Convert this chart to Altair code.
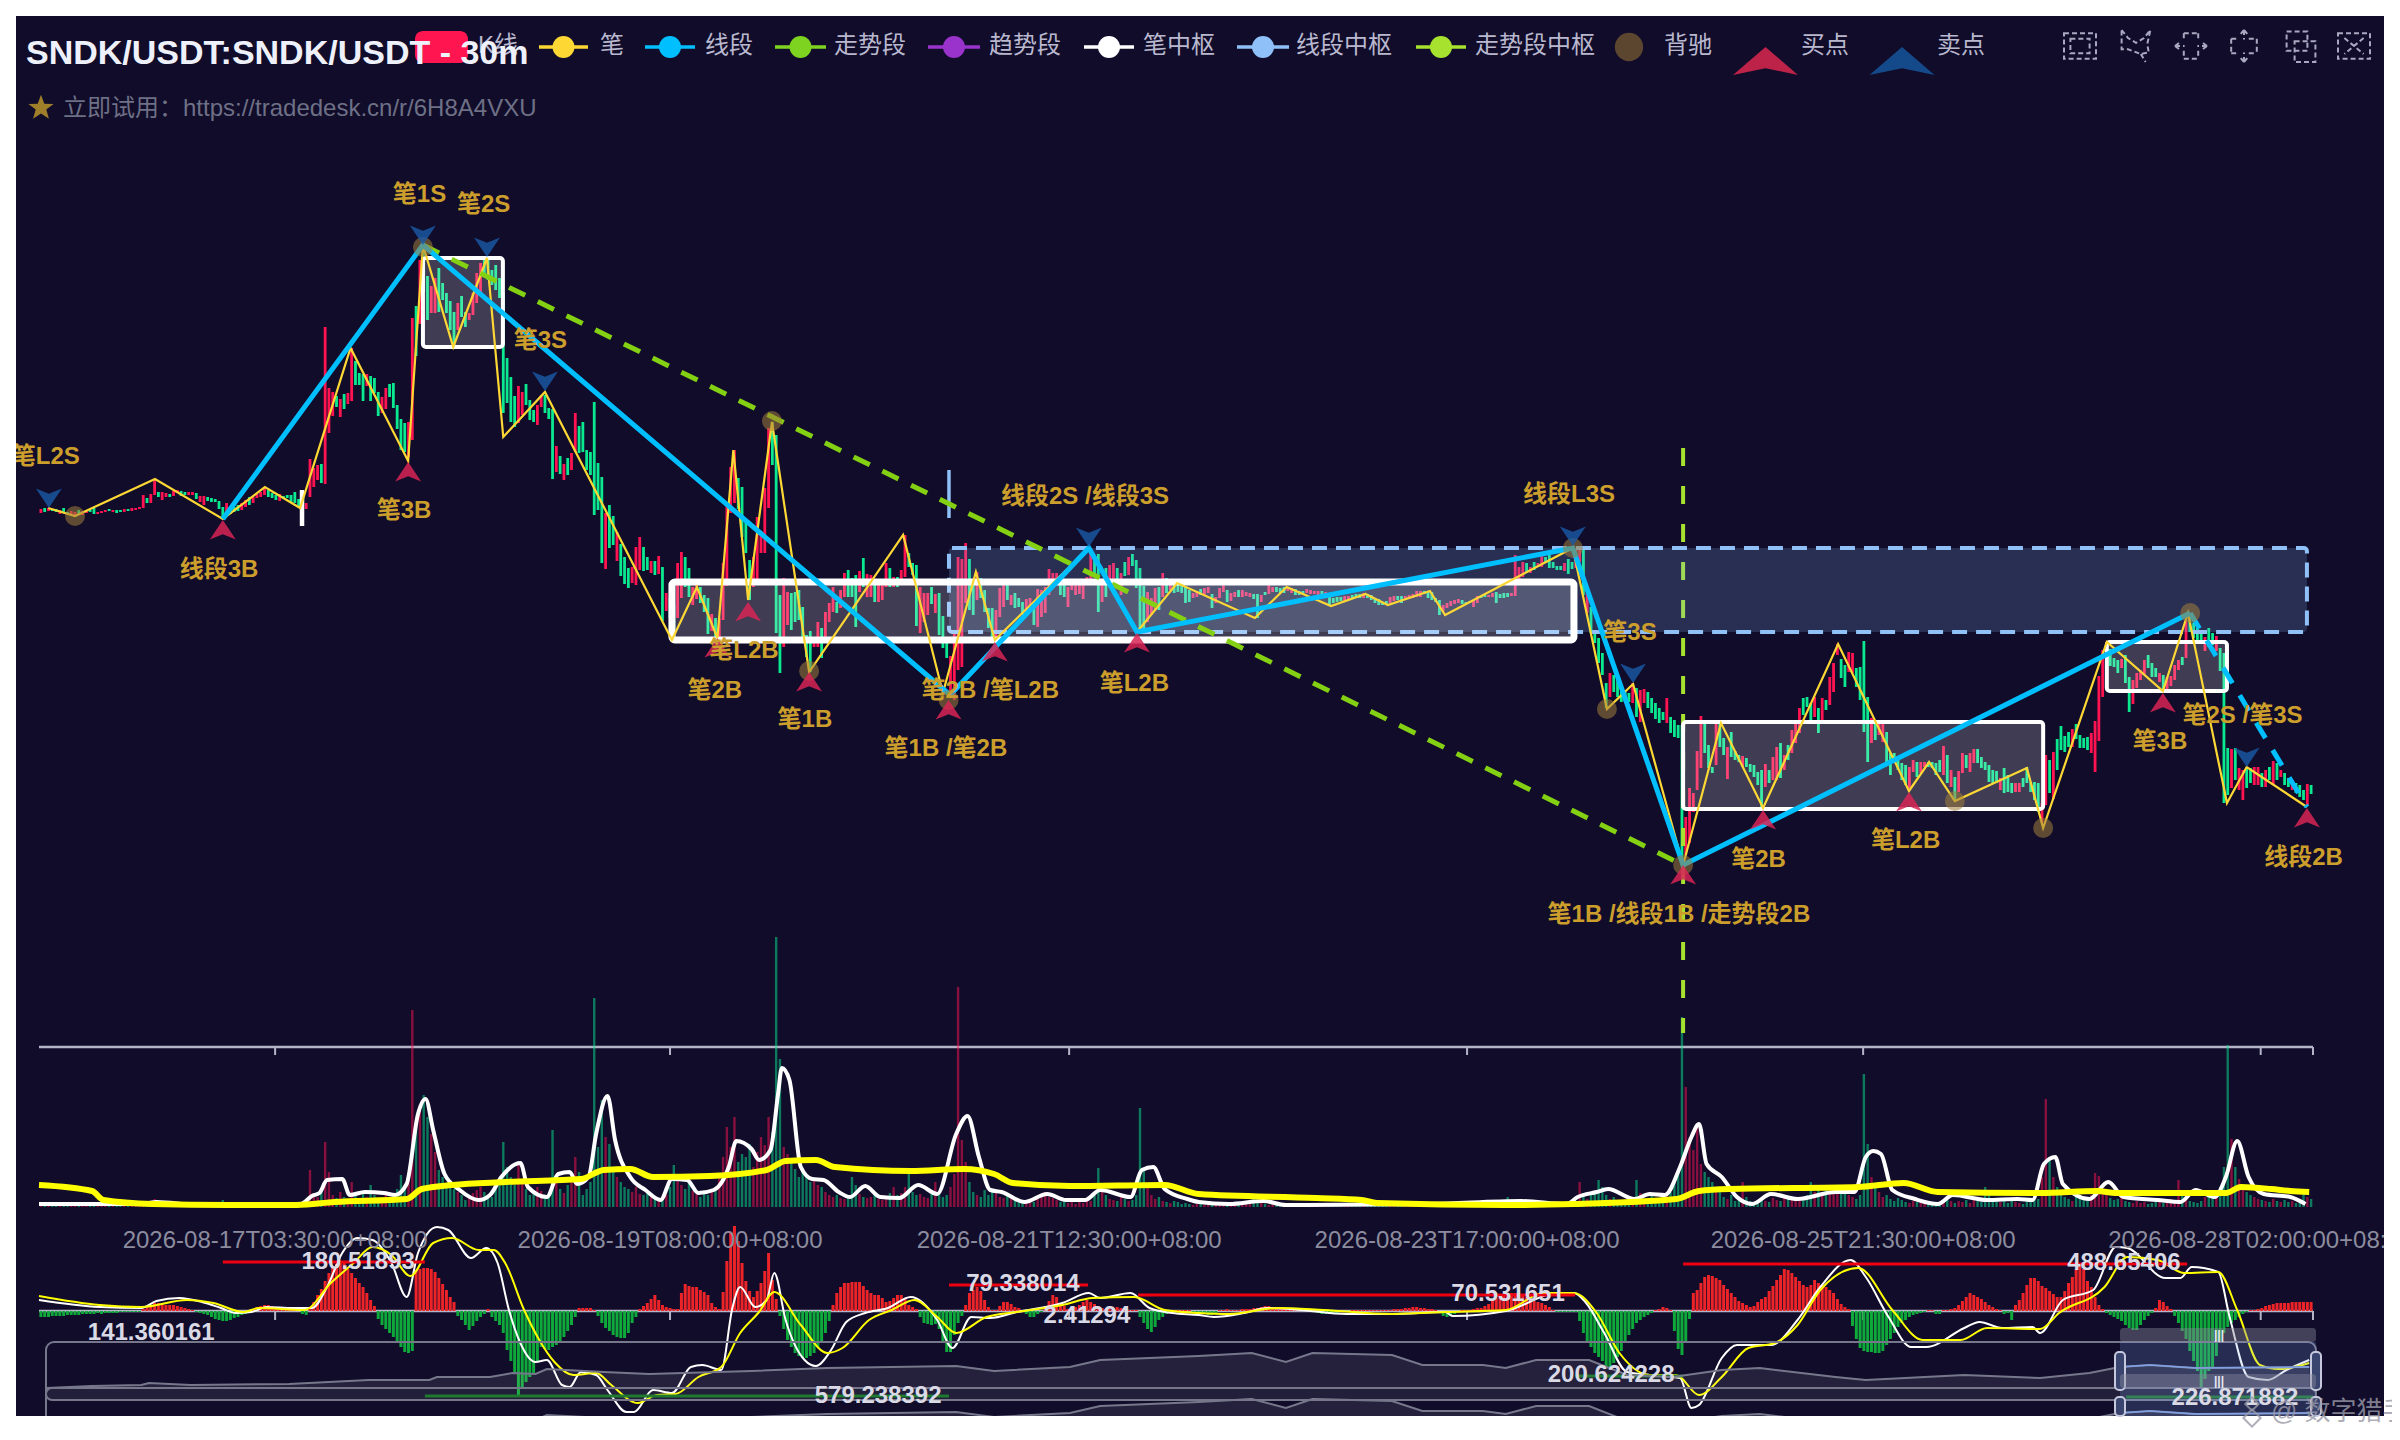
import altair as alt
import pandas as pd

FONT = "Liberation Sans, Noto Sans CJK SC"
BG = "#100c2a"
GOLD = "#cc9e2c"
AXIS = "#b4b3c8"
RED, GREEN = "#ff1451", "#0ae890"

# ---- candles: (high, low, 1=red/0=green)
c_a = [(491,487,1),(492,488,0),(492,489,1),(491,489,0),(491,488,0),(490,486,1),(492,487,0),(488,486,0),(489,486,1),(488,484,1),
(490,486,0),(489,485,1),(489,487,1),(490,488,0),(492,486,0),(488,486,1),(489,487,1),(490,488,1),(491,489,0),(490,488,1),
(490,487,0),(490,488,0),(491,488,1),(491,489,0),(492,489,1),(492,490,1),(493,491,1),(505,492,1),(502,497,0),(506,497,1),
(521,505,1),(508,503,0),(508,500,1),(507,503,1),(506,503,0),(509,504,1),(510,507,1),(509,504,0),(508,505,0),(508,505,1),
(508,505,1),(507,501,0),(504,498,1),(504,495,1),(503,499,0),(502,498,0),(501,498,0),(499,491,0),(493,481,0),(497,484,1),
(494,486,0),(493,488,0),(495,489,0),(497,490,1),(500,493,1),(503,495,0),(503,497,1),(506,502,1),(508,503,1),(513,505,1),
(510,503,0),(507,502,0),(505,500,0),(506,499,1),(504,501,0),(505,502,0),(505,498,0),(508,497,0),(501,493,0),(498,491,0),(497,491,1)]
c_b = [(541,503,1),(532,513,1),(535,520,1),(536,517,0),(673,516,1),(612,567,1),(608,584,1),(604,593,0),(601,583,1),(606,591,0),
(607,596,1),(652,599,1),(639,615,0),(627,615,0),(626,599,0),(626,614,1),(624,599,0),(622,607,0),(608,584,0),(603,587,1),
(612,591,1),(616,603,0),(617,592,0),(595,571,0),(581,550,0),(577,548,0),(578,543,1),(682,560,1),(694,644,0),(740,676,1),
(755,708,0),(724,680,0),(714,687,1),(722,687,1),(732,688,0),(717,700,0),(707,687,0),(699,670,0),(688,653,0),(697,670,1),
(704,683,0),(688,673,0),(687,680,1),(707,685,1),(727,697,1),(737,708,1),(742,727,0),(742,720,0),(730,715,0),(735,710,0),
(722,702,0),(707,587,0),(642,597,0),(623,578,0),(604,573,0),(614,577,1),(608,585,1),(616,595,0),(600,580,0)]
c_c = [(590,578,0),(595,575,1),(605,593,1),(605,587,0),(592,581,0),(591,521,0),(554,528,1),(544,526,0),(536,520,1),(542,525,0),
(547,530,1),(587,548,1),(574,547,0),(578,548,0),(550,530,0),(548,525,0),(598,485,0),(537,490,0),(523,437,0),(487,431,1),
(495,452,0),(484,455,0),(468,439,1),(456,424,0),(443,416,0),(432,412,0),(433,417,1),(453,415,1),(463,430,1),(453,429,0),
(443,430,0),(439,427,1),(439,425,0),(444,426,1),(433,379,0),(407,389,1),(402,382,0),(395,357,0),(437,382,1),(448,402,1),
(443,413,0),(432,403,0),(413,395,1),(418,401,1),(413,397,0),(405,388,0),(402,366,0),(386,369,1),(382,362,0),(382,361,1),
(437,380,1),(498,414,1),(533,487,1),(550,497,1),(522,491,0),(513,463,0),(481,447,0),(440,400,0),(443,413,1),(483,417,1),
(467,447,1),(512,447,1),(572,492,1),(578,535,0),(565,367,0),(405,327,0),(422,353,1),(408,375,1),(407,370,0),(408,378,0),
(410,380,0),(393,357,0),(365,343,0),(369,328,0),(363,353,1),(378,353,1),(372,342,0),(388,363,1),(397,378,1),(413,388,1),
(398,387,0),(410,392,1),(427,403,1),(430,403,0),(422,403,0),(425,373,0),(429,408,1),(442,413,0),(426,403,1),(425,403,1),
(418,398,0),(415,398,1),(417,400,1),(437,413,1),(432,413,0),(423,413,1),(423,413,0),(430,415,1)]
c_d = [(465,423,1),(447,433,0),(437,425,0),(435,374,0),(413,367,1),(407,378,1),(407,385,1),(413,396,0),(406,387,1),(407,365,0),
(384,352,0),(363,342,0),(344,303,1),(367,300,1),(443,330,1),(441,333,1),(457,397,1),(441,390,0),(420,385,0),(428,400,1),
(422,402,0),(410,388,0),(392,372,0),(392,363,0),(390,360,1),(412,383,1),(420,393,1),(420,400,0),(405,395,1),(407,392,0),
(402,393,0),(398,385,0),(401,388,1),(402,392,1),(397,375,0),(411,373,1),(410,383,1),(413,387,1),(431,405,1),(427,412,1),
(427,415,1),(425,405,0),(417,403,0),(413,393,1),(420,410,1),(418,405,1),(420,406,1),(420,401,1),(423,415,1),(452,421,1),
(442,423,0),(446,388,0),(417,398,1),(432,403,0),(435,413,1),(437,420,1),(432,413,0),(427,405,1),(438,424,0),(443,425,1),
(446,434,0),(440,412,0),(432,368,0),(414,370,0),(408,378,1),(402,385,1),(412,390,1),(413,390,0),(427,403,1),(422,407,0),
(420,410,1),(417,407,0),(415,408,0),(415,407,0),(413,397,0),(410,398,0),(407,402,1),(409,403,1),(411,405,0),(412,405,1),
(413,407,1),(406,392,0),(403,397,1),(412,402,1),(415,408,1),(410,398,0),(407,399,1),(408,403,1),(410,403,0),(410,403,1),
(408,404,1),(407,403,1),(406,401,0),(406,382,0),(405,398,1),(408,405,0),(417,406,1),(413,408,1),(413,408,0),(412,407,0),
(413,407,0),(413,409,1),(412,407,1),(411,405,0),(409,405,0)]
c_e = [(409,406,0),(411,407,1),(410,406,1),(409,406,1),(409,405,1),(409,405,0),(408,403,1),(406,394,0),(402,397,0),(403,398,0),
(403,399,0),(404,399,1),(404,401,1),(405,401,0),(406,402,0),(406,402,0),(407,402,1),(406,402,0),(405,400,0),(402,397,0),
(401,395,0),(398,395,0),(399,395,0),(403,397,1),(404,399,1),(404,400,0),(404,397,0),(404,400,1),(405,401,1),(406,402,1),
(409,403,1),(409,403,1),(409,406,0),(408,402,0),(408,400,0),(402,398,0),(400,385,0),(395,389,1),(397,392,1),(399,394,1),
(400,396,1),(401,397,1),(400,396,0),(398,396,0),(399,397,0),(399,393,1),(404,397,1),(404,402,0),(405,403,0),(405,403,1),
(407,403,1),(408,397,0),(406,402,0),(407,402,0),(407,403,0),(407,404,1),(445,404,1),(433,421,1),(438,423,1),(437,427,0),
(433,427,1),(438,430,0),(437,433,1),(445,433,1),(443,437,0),(445,432,0),(438,432,0),(434,430,0),(434,430,0),(437,429,1),
(441,426,0),(438,431,0),(450,432,1),(452,438,1),(452,405,0),(410,387,1),(393,367,0),(367,357,0),(362,337,0),(347,325,0),
(317,292,0),(327,303,1),(325,308,0),(323,303,0),(315,298,0),(308,298,0),(307,298,0),(317,297,1),(312,283,0),(310,278,1),
(311,297,1),(308,292,0),(302,287,0),(297,281,0),(292,277,0),(288,280,0),(302,277,1),(283,267,0),(280,263,0),(275,262,0)]
c_f = [(275,135,0),(183,145,1),(212,157,1),(207,188,1),(249,210,1),(284,232,1),(280,247,0),(255,232,0),(233,227,0),(278,235,1),
(277,253,0),(262,245,0),(253,221,1),(268,243,0),(249,240,0),(245,238,0),(244,233,1),(242,233,0),(236,228,0),(235,223,0),
(228,215,0),(230,192,0),(236,213,1),(230,217,0),(243,220,1),(253,220,1),(257,222,0),(245,230,1),(255,240,0),(270,247,1),
(277,257,1),(292,267,1),(302,285,0),(303,293,0),(297,277,0),(303,283,1),(292,267,0),(302,277,1),(300,290,0),(323,295,1),
(337,308,1),(356,345,1),(341,322,0),(335,313,0),(348,328,1),(347,327,1),(332,313,0),(333,300,0),(359,268,0),(303,238,0),
(282,257,1),(280,260,0),(280,265,1),(278,258,1),(268,237,0),(247,225,0),(247,237,0),(242,230,0),(237,220,0),(235,215,0),
(233,212,1),(240,228,1),(238,223,0),(238,227,1),(238,233,1),(238,233,0),(238,232,0),(237,225,0),(240,228,0),(254,225,1),
(245,217,0),(230,213,1),(223,200,0),(229,208,1),(247,227,1),(245,232,0),(247,228,1),(251,237,1),(251,237,0),(243,232,0),
(238,230,0),(235,218,0),(230,217,0),(229,217,0),(222,210,1),(232,207,0),(225,208,0),(217,207,0),(217,208,1),(217,208,1),
(222,213,0),(233,217,0),(218,208,0),(218,200,0),(217,188,0),(197,177,1),(245,195,1),(240,207,0)]
c_g = [(248,201,1),(261,230,0),(274,250,0),(264,248,0),(268,253,0),(271,253,1),(276,261,0),(265,252,0),(262,252,0),(263,250,0),
(267,247,1),(279,228,1),(324,259,1),(350,303,1),(358,323,1),(351,334,0),(342,333,0),(340,327,0),(341,332,1),(345,317,0),
(323,288,0),(320,296,1),(327,312,1),(330,320,1),(340,325,1),(345,332,0),(337,323,0),(332,323,0),(327,318,1),(325,310,0),
(323,310,1),(324,314,1),(335,320,1),(340,330,1),(343,335,0),(380,342,1),(387,368,0),(377,362,0),(372,360,0),(367,357,0),
(363,349,1),(372,353,0),(367,355,0),(364,349,1),(352,329,0),(347,197,0),(252,205,0),(251,212,1),(252,220,0),(232,210,1),
(230,200,1),(232,212,0),(232,217,0),(233,215,1),(233,215,1),(227,213,0),(230,213,1),(233,220,0),(239,215,1),(237,220,0),
(230,223,1),(227,215,0),(222,213,0),(220,210,1),(217,207,0),(215,203,0),(210,200,0),(216,195,1),(215,206,0)]
candles = c_a + c_b + c_c + c_d + c_e + c_f + c_g

# ---- structure lines: (bar position, price)
bi = [(2.4,492),(9.5,484),(30.6,521),(48.5,481),(59.6,513),(68.9,492),(82.2,652),(97.4,539),(101.3,755),(109.3,653),
(118.2,742),(122.5,563),(133.5,608),(167,360),(173.6,413),(179,362),(183.2,550),(187.1,400),(193.4,578),(203.2,328),
(228,465),(238.5,307),(247.2,428),(252.2,360),(277,452),(289.7,368),(300.3,417),(320.8,382),(329.2,413),(340.9,394),
(350,406),(355.9,395),(367,409),(371,385),(404.7,452),(413.7,291),(420.6,316),(433.8,135),(443.8,277),(454.9,192),
(474.7,356),(493.4,209),(498.7,238),(505.5,199),(524.5,232),(528.8,172),(545.6,358),(560.4,309),(567,387),(577.3,197),
(582.5,233),(598.4,193)]
duan = [(48.5,481),(101.3,755),(240.4,305),(277,452),(289.7,368),(404.7,452),(433.8,135),(567.6,387)]
duan_dashed = [(567.6,387),(598.4,193)]
zoushi = [(101.3,755),(433.8,135)]
bi_zones = [(101.3,122.4,742,653,4),(167,405,418,360,7),(433.8,528.8,278,191,4),(545.6,577.3,358,309,4)]
duan_zone = [(240.1,598.4,452,368)]

sell_pts = [(2.6,492),(101.3,755),(118.2,743),(133.5,609),(277,453),(404.7,454),(420.6,317),(582.5,233)]
buy_pts = [(48.5,480),(97.4,538),(187.1,398),(179,362),(203.2,328),(240,300),(252.2,358),(289.7,367),(433.8,135),
(454.9,190),(493.4,208),(560.4,307),(598.4,192)]
div_pts = [(9.5,484),(101.3,753),(193.4,579),(203.2,329),(240,300),(404.7,452),(413.7,291),(433.8,135),(505.5,199),
(528.8,172),(567.6,387)]
point_labels = [("笔L2S",1.8,543),("笔1S",100.4,805),("笔2S",117.3,795),("笔3S",132.3,659),("笔3B",96.3,489),
("线段3B",47.5,430),("笔2B",178.3,309),("笔L2B",186,349),("笔1B",202.1,280),("笔2B /笔L2B",251,309),
("笔1B /笔2B",239.3,251),("线段2S /线段3S",276,503),("笔L2B",289,316),("线段L3S",403.7,505),("笔3S",419.8,367),
("笔1B /线段1B /走势段2B",432.7,85),("笔2B",453.7,140),("笔L2B",492.5,159),("笔3B",559.6,258),
("笔2S /笔3S",581.4,284),("线段2B",597.5,142)]

# ---- volume by bar, in chunks keyed by the first bar
vol_chunks = {
0:[1,2,1,2,1,2,1,1,2,1,2,1,3,2,1,2,1,2,1,2,2,3,2,3,2,3,2,3,4,5,8,6,4,3,3,2,3,2,2,2,1,2,3,2,2,1,2,4,7,5,3,2,2,2,1,2,1,2,2,1,2,3,2,2,1,2,1,2,3,2],
70:[6,37,14,10,18,65,35,12,9,15,10,8,25,12,9,14,10,22,12,8,9,14,10,12,18,32,22,30,197,85],
100:[103,112,90,73,55,37,30,22,27,18,15,12,7,9,14,17,20,15,12,10,18,25,65,40,30,22,43,25,18,12],
130:[14,20,16,10,12,77,30,18,14,22,30,50,35,12,18,25,209,60,107,70,63,40,30,25,20,18,15,20,13,12],
160:[15,12,10,8,7,12,20,42,28,22,18,25,16,13,10,14,12,15,16,30,50,80,60,90,45,53,50,63,40,55],
190:[70,62,90,75,270,148,60,53,45,38,30,35,30,25,28,22,20,15,12,10,12,9,8,12,30,22,13,10,9,10],
220:[12,8,7,10,14,20,12,14,20,33,15,12,13,10,9,14,25,13,10,12,20,33,220,67,45,25,15,12,10,17],
250:[12,15,17,10,9,12,8,7,6,5,4,7,5,8,12,15,10,9,7,5,6,4,5,3,6,4,8,6,12,39],
280:[17,12,8,7,6,10,8,6,7,12,99,37,20,12,8,10,6,5,4,6,5,3,4,3,2,3],
306:[3,2,2,3,2,3,2,3,2,2,3,5,4,6,10,6,4,3,2,3,2,2,2,1,2,1,2,1,2,2,1,2,1,2,1,1,2,1,2,1,2,1,1,2,1,2,1,1,2,1],
356:[2,2,1,2,3,2,1,2,2,1,2,3,5,3,2,2,1,2,2,3,2,3,2,3,4,3,2,3,4,5,6,10,7,5,4,3,5,3,2,3,3,2,3,2,3,3,4,3,5,4],
406:[25,10,8,12,15,27,20,12,8,10,7,6,5,8,10,27,14,8,7,12,9,8,10,12,15,25,35,190],
434:[120,70,57,80,43,35,30,25,20,15,10,8,12,6,8,25,10,6,5,7,8,6,5,9,7,6,12,9,10,8],
464:[10,8,12,25,15,20,12,18,22,15,20,18,14,12,10,8,12,133],
482:[63,30,20,15,10,12,8,6,9,7,5,4,6,5,4,3,5,4,3,5,6,8,6,4,6,5,7,4,8,6,5,20,12,8,6,5,7,4,6,5,4,3,6,5,7,8,30,108],
530:[50,30,20,14,10,8,6,10,9,7,8,12,34,31,18,12,9,7,8,10,6,5,4,6,4,5,3,4,6,5,4,7,8,5,27,12,8,6,5,4,6,10,12,9,15,20,40,162],
578:[68,40,28,20,15,12,10,8,7,6,5,8,6,5,7,5,6,4,5,17,10,8],
}
ma5 = [(0,3),(27,3),(31,5),(42,2),(48,3),(54,3),(69,3),(72,11),(74,14),(76,27),(80,28),(82,12),(86,15),(91,14),(94,12),(97,23),
(100,93),(102,108),(104,77),(107,33),(111,17),(116,7),(119,12),(122,30),(127,44),(129,20),(134,10),(137,33),(140,35),(142,23),
(145,30),(147,73),(150,111),(152,67),(156,30),(160,17),(164,7),(167,28),(171,27),(174,14),(178,17),(182,40),(184,66),(188,58),
(190,47),(193,57),(195,113),(196,139),(198,127),(201,40),(204,28),(207,27),(211,15),(214,10),(218,21),(222,10),(227,9),(232,22),
(237,13),(242,73),(245,91),(248,50),(251,17),(254,15),(260,5),(266,13),(271,7),(276,7),(280,17),(288,10),(291,37),(294,40),
(297,18),(303,8),(306,5),(314,3),(323,6),(329,2),(367,3),(391,6),(403,3),(406,10),(411,15),(414,18),(421,8),(425,13),(429,12),
(433,40),(436,70),(438,83),(440,43),(444,30),(448,10),(452,3),(457,13),(464,8),(474,15),(479,15),(482,50),(484,56),(486,53),
(489,17),(495,8),(501,3),(505,12),(514,7),(522,8),(526,7),(529,43),(532,50),(534,23),(541,8),(546,25),(550,10),(559,7),(565,5),
(569,17),(574,10),(577,30),(580,66),(583,30),(587,13),(594,10),(598,3)]
ma10 = [(0,22),(14,16),(17,7),(30,3),(50,2),(68,2),(78,5),(97,8),(101,18),(109,22),(123,25),(143,28),(149,37),(156,38),(162,30),
(177,31),(192,37),(197,46),(205,47),(210,40),(230,36),(244,38),(252,33),(257,24),(272,21),(297,22),(306,13),(337,9),(349,7),(353,4),
(387,2),(405,3),(432,8),(438,16),(446,18),(480,20),(492,24),(501,15),(528,14),(543,16),(548,14),(577,14),(581,20),(589,18),(594,16),(599,15)]

# ---- MACD histogram by bar, in chunks keyed by the first bar
hist_chunks = {
0:[-6,-6,-6,-5,-5,-5,-5,-4,-4,-4,-4,-3,-3,-3,-3,-2,-3,-2,-2,-2,-2,-1,-1,-1,-1,-1,-1],
27:[2,4,6,8,8,7,6,6,6,5,4,3,2,1],41:[-1,-2,-3,-4,-6,-8,-9,-10,-10,-9,-7,-6,-4,-3,-1],
56:[2,4,5,6,6,5,4,4,3,3,2,2,1,-3,-4],71:[4,9,16,22,30,38,44,47,49,48,42,38,33,28,24,18,11,5],
89:[-8,-14,-18,-22,-26,-30,-36,-41,-42,-40],99:[41,42,43,43,42,39,33,27,21,14,9],110:[-5,-9,-14,-19,-15,-10,-6,-3],118:[2],
119:[-6,-10,-14,-22,-39,-50,-62,-84,-78,-71,-66,-62,-50,-36,-38,-39,-36,-34,-32,-26,-20,-14,-6],142:[3,3,3,3,1],
147:[-5,-12,-17,-20,-24,-26,-27,-27,-22,-12,-6],158:[2,5,8,12,16,11,6,4,3,2],168:[2,18,27,25,24,24,21,19,16,8,4,2],
180:[19,50,78,85,70,48,30,20,14,20,28,40,58,31,12],195:[-5,-18,-29,-36,-42,-45,-47,-47,-45,-42,-36,-30,-22,-10],
209:[6,18,24,28,28,29,29,29,25,21,18,16,16,13,9,10,13,16,16,12,6,4,2],232:[-6,-12,-13,-14,-13,-18,-30,-41,-41,-24,-12,-5],
244:[6,18,21,24,20,11,4,1,1],253:[5,9,9,7,4,3,1],260:[-3,-6,-6,-3,-1],265:[5,10,16,14,8,5,2],
272:[2,4,6,9,11,9,7,5,3,2,2,3,4,3,2,1,1,1],290:[-6,-12,-18,-21,-16,-9,-6,-3,-2],299:[1,1,1,1,1,-1,-1],
306:[-2,-3,-4,-4,-2,1,1,2,1,1,1,2,2,2,3,3,4,5,5,4,3,3,2,2,1,1,1,1,1,-1,-1,-2,-3,-3,-3,-2,-2,-1,-1,-1,1,1,1,1,1,1,1,1,1],
355:[1,1,2,2,2,3,3,4,4,3,3,2,2,1,-2,-5,-6,-5,-3,-1,1,1],
377:[1,2,3,3,5,7,10,13,16,16,17,18,18,17,16,14,12,10,9,8,6,4,1],400:[-1,-1,-1,-1,-1,-1],
406:[-10,-22,-30,-36,-42,-46,-50,-56,-56,-52,-46,-40,-31,-24,-18,-12,-9,-6,-4,-2],426:[1,2,4,3,1],431:[-20,-38,-44,-30,-8],
436:[18,21,28,34,36,35,33,31,26,22,18,14,10,8,6,4],452:[5,9,12,14,20,25,31,36,42,41,38,34,30,26,24,26,31,28,26,24,21,18,12,7,4,2],
478:[-15,-28,-37,-40,-41,-41,-42,-42,-40,-34,-28,-22,-16,-12,-9,-6,-4,-3,-2,-1],498:[1,1,-3,-3,1,1,2],
505:[3,6,10,14,18,16,14,12,9,6,4,2,1],518:[-3,-2,-9],521:[6,11,18,26,33,33,30,25,23,20,17,14,14,20,28,34,42,48,42,30,24,14,6,2],
545:[-2,-4,-6,-8,-10,-14,-17,-19,-19,-14,-9,-5,-2],558:[3,11,9,5,2],563:[-5,-12,-20,-28,-40,-50,-60,-76,-68,-60,-56,-45,-32,-22,-16,-12,-9,-6,-3,-1],
583:[1,1,2,3,5,6,7,8,8,8,8,9,9,9,9,9,9],
}
dif = [(0,11),(16,4),(27,3),(31,10),(37,13),(43,9),(48,3),(52,-2),(56,-1),(60,4),(67,3),(72,3),(76,24),(80,58),(84,73),(88,71),(93,48),
(97,14),(100,58),(105,84),(108,81),(114,53),(118,63),(121,48),(124,1),(127,-32),(131,-51),(134,-49),(138,-74),(140,-76),(143,-61),
(147,-64),(150,-79),(155,-101),(157,-101),(162,-79),(167,-82),(172,-56),(175,-54),(180,-59),(183,4),(185,24),(189,4),(192,11),(194,38),
(197,-9),(202,-49),(205,-55),(209,-39),(213,-11),(218,-2),(224,3),(230,14),(237,-9),(241,-37),(246,-6),(251,-7),(258,-1),(270,8),
(277,18),(280,13),(288,18),(293,3),(299,-2),(306,-4),(310,-6),(318,-2),(324,3),(333,1),(345,-3),(357,-3),(371,-1),(373,-5),(387,0),
(401,18),(405,18),(408,9),(413,-22),(419,-61),(425,-64),(433,-67),(436,-97),(438,-94),(444,-47),(448,-34),(457,-34),(464,-9),(470,24),
(478,51),(482,34),(488,-6),(494,-36),(498,-36),(508,-17),(512,-11),(518,-17),(526,-16),(528,-22),(534,11),(542,21),(548,64),(551,63),
(561,33),(565,33),(568,44),(575,39),(578,-6),(583,-66),(588,-69),(593,-59),(599,-49)]
dea = [(0,15),(16,6),(27,4),(39,11),(46,8),(54,-1),(58,3),(70,1),(77,28),(83,48),(88,64),(93,56),(98,35),(104,68),(109,73),(116,61),
(120,61),(123,48),(128,1),(132,-29),(136,-51),(141,-64),(147,-62),(151,-74),(158,-92),(163,-84),(168,-83),(174,-66),(180,-56),(185,-22),
(190,-1),(194,19),(201,-14),(208,-42),(212,-37),(219,-9),(225,1),(231,11),(237,-6),(242,-22),(250,-6),(258,-1),(270,6),(278,13),(289,14),
(297,1),(306,-2),(314,-3),(327,3),(339,1),(357,-3),(371,-1),(387,1),(397,18),(405,18),(411,-2),(417,-42),(425,-64),(432,-64),(438,-84),
(444,-66),(451,-37),(458,-32),(464,-14),(470,21),(480,43),(489,1),(497,-29),(507,-29),(514,-17),(528,-18),(533,-2),(545,24),(551,54),
(559,51),(566,38),(575,39),(580,1),(586,-54),(591,-58),(599,-52)]
mark_red = [(48.5,101.8,49),(240.1,276.8,26),(290,405.3,16),(433.8,566.8,47)]
mark_green = [(101.8,240.1,-85),(405.3,433.8,-65),(550.7,600,-86)]
mark_texts = [("180.51893",84.2,49),("141.360161",29.6,-22),("79.338014",259.6,27),("2.41294",276.5,-5),("70.531651",387.6,17),
("488.65406",550.1,48),("579.238392",221.4,-85),("200.624228",414.8,-64),("226.871882",579.4,-87)]

# ---- slider preview
shadow = [(2,0),(14,2),(27,3),(29,5),(40,3),(66,4),(87,8),(103,8),(105,11),(119,11),(125,15),(131,14),(134,19),(149,16),(161,14),(188,17),
(208,20),(242,22),(252,17),(272,21),(280,28),(306,32),(320,35),(329,26),(336,35),(357,33),(365,23),(381,23),(387,20),(395,28),(409,28),
(419,13),(431,11),(444,18),(454,20),(474,11),(482,8),(508,13),(528,10),(541,15),(549,21),(557,23),(569,20),(599,21)]

tick_pos = [62.3,166.5,271.8,376.8,481.3,586.2]
tick_labels = ["2026-08-17T03:30:00+08:00","2026-08-19T08:00:00+08:00","2026-08-21T12:30:00+08:00",
               "2026-08-23T17:00:00+08:00","2026-08-25T21:30:00+08:00","2026-08-28T02:00:00+08:00"]

# ---- scales (page pixel = range value + 16)
xs = alt.Scale(domain=[0,600], range=[23,2297], nice=False, zero=False)
ys_price = alt.Scale(domain=[0,1000], range=[984,-16], nice=False, zero=False)
ys_vol = alt.Scale(domain=[0,160], range=[1191,1031], nice=False, zero=False)
ys_macd = alt.Scale(domain=[-200,200], range=[1495,1095], nice=False, zero=False)
ys_sl1 = alt.Scale(domain=[0,46], range=[1372,1326], nice=False, zero=False)
ys_sl2 = alt.Scale(domain=[0,46], range=[1418,1372], nice=False, zero=False)

def X(f="x"):
    return alt.X(f"{f}:Q", scale=xs, axis=None, title=None)
def Y(f, s):
    return alt.Y(f"{f}:Q", scale=s, axis=None, title=None)

layers = []

# volume
vol_rows = [{"x":s+k+0.5,"v":v,"c":"#ff1451" if candles[s+k][2] else "#0ae890"} for s,vals in vol_chunks.items() for k,v in enumerate(vals)]
hist_rows = [{"x":s+k+0.5,"v":v,"b":0,"c":"#ec2428" if v>0 else "#0fa83a"} for s,vals in hist_chunks.items() for k,v in enumerate(vals)]

# true axis carrying the volume baseline and its ticks
layers.append(alt.Chart(pd.DataFrame({"x":[0.0,600.0],"v":[0,0]})).mark_line(opacity=0).encode(
    x=alt.X("x:Q", scale=xs, title=None, axis=alt.Axis(values=tick_pos+[600], labels=False, grid=False, orient="bottom",
        offset=-209, domainColor=AXIS, domainWidth=2.5, tickColor=AXIS, tickWidth=2, tickSize=9, title=None)),
    y=Y("v", ys_vol)))

tick_df = pd.DataFrame({"x":tick_pos+[600]})
for lvl,scale,a,b in [(160,ys_vol,160,152),(0,ys_macd,0,-9)]:
    layers.append(alt.Chart(pd.DataFrame({"x":[0.0],"x2":[600.0],"v":[lvl]})).mark_rule(color=AXIS,strokeWidth=2.5).encode(
        x=X(), x2=alt.X2("x2"), y=Y("v",scale)))
    layers.append(alt.Chart(tick_df.assign(a=a,b=b)).mark_rule(color=AXIS,strokeWidth=2).encode(
        x=X(), y=Y("a",scale), y2=alt.Y2("b")))

layers.append(alt.Chart(pd.DataFrame(vol_rows).assign(b=0)).mark_rule(strokeWidth=2.4,opacity=0.5).encode(
    x=X(), y=Y("v",ys_vol), y2=alt.Y2("b"), color=alt.Color("c:N",scale=None)))
layers.append(alt.Chart(pd.DataFrame(ma5,columns=["x","v"])).mark_line(color="white",strokeWidth=4,interpolate="monotone").encode(x=X(),y=Y("v",ys_vol)))
layers.append(alt.Chart(pd.DataFrame(ma10,columns=["x","v"])).mark_line(color="#ffff00",strokeWidth=6,interpolate="monotone").encode(x=X(),y=Y("v",ys_vol)))

# macd
layers.append(alt.Chart(pd.DataFrame(hist_rows)).mark_rule(strokeWidth=3).encode(
    x=X(), y=Y("v",ys_macd), y2=alt.Y2("b"), color=alt.Color("c:N",scale=None)))
layers.append(alt.Chart(pd.DataFrame(dif,columns=["x","v"])).mark_line(color="white",strokeWidth=2,interpolate="monotone").encode(x=X(),y=Y("v",ys_macd)))
layers.append(alt.Chart(pd.DataFrame(dea,columns=["x","v"])).mark_line(color="#ffff00",strokeWidth=2,interpolate="monotone").encode(x=X(),y=Y("v",ys_macd)))
layers.append(alt.Chart(pd.DataFrame(mark_red,columns=["x","x2","v"])).mark_rule(color="#ee0010",strokeWidth=3).encode(x=X(),x2=alt.X2("x2"),y=Y("v",ys_macd)))
layers.append(alt.Chart(pd.DataFrame(mark_green,columns=["x","x2","v"])).mark_rule(color="#0d6e1e",strokeWidth=3).encode(x=X(),x2=alt.X2("x2"),y=Y("v",ys_macd)))

# slider preview frames
for sc in [ys_sl1, ys_sl2]:
    d = pd.DataFrame(shadow,columns=["x","v"]).assign(b=0)
    layers.append(alt.Chart(d).mark_area(color="white",opacity=0.09,clip=True).encode(x=X(),y=Y("v",sc),y2=alt.Y2("b")))
    layers.append(alt.Chart(d).mark_line(color="#77778c",strokeWidth=2,clip=True).encode(x=X(),y=Y("v",sc)))
    layers.append(alt.Chart(d[d.x>=549]).mark_line(color="#7f9fe0",strokeWidth=1.5,clip=True).encode(x=X(),y=Y("v",sc)))

def rect_ui(x0,x1,y0,y1,**kw):
    return alt.Chart(pd.DataFrame({"a":[0]})).mark_rect(**kw).encode(
        x=alt.value(x0-16),x2=alt.value(x1-16),y=alt.value(y0-16),y2=alt.value(y1-16))
def text_ui(t,x,y,**kw):
    base = dict(font=FONT,align="left",baseline="middle")
    base.update(kw)
    return alt.Chart(pd.DataFrame({"t":[t]})).mark_text(**base).encode(text="t:N",x=alt.value(x-16),y=alt.value(y-16))
def pt_ui(x,y,**kw):
    return alt.Chart(pd.DataFrame({"a":[0]})).mark_point(**kw).encode(x=alt.value(x-16),y=alt.value(y-16))

layers.append(rect_ui(46,2316,1342,1470,fill="white",fillOpacity=0,stroke="#77778c",strokeWidth=2,cornerRadius=8,clip=True))
layers.append(rect_ui(46,2316,1388,1400,fill="white",fillOpacity=0.08,stroke="#77778c",strokeWidth=2,cornerRadius=6))
layers.append(rect_ui(2120,2316,1342,1416,fill="#87aefb",fillOpacity=0.2))
for off in [0,46]:
    layers.append(rect_ui(2120,2316,1328+off,1342+off,fill="#8a8a9e",fillOpacity=0.42,cornerRadius=3))
    layers.append(text_ui("|||",2219,1335+off,fontSize=12,fontWeight="bold",align="center",color="#e8e8f4"))
    if off == 0:
        for hx in [2120,2316]:
            layers.append(rect_ui(hx-5,hx+5,1352,1390,fill="#39456e",stroke="#c6c8de",strokeWidth=2,cornerRadius=4))
    else:
        for hx in [2120,2316]:
            layers.append(rect_ui(hx-5,hx+5,1397,1416,fill="#39456e",stroke="#c6c8de",strokeWidth=2,cornerRadius=4))

# candles
cdf = pd.DataFrame(candles,columns=["hi","lo","r"])
cdf["x"] = cdf.index+0.5
cdf["c"] = [RED if r else GREEN for r in cdf.r]
layers.append(alt.Chart(cdf).mark_rule(strokeWidth=2.8).encode(x=X(),y=Y("hi",ys_price),y2=alt.Y2("lo"),color=alt.Color("c:N",scale=None)))

# zero-width structure zones
for vx,top,bot,col,w in [(69.4,510,474,"white",4.5),(240.1,530,482,"#90c0f8",3.5)]:
    layers.append(alt.Chart(pd.DataFrame({"x":[vx],"a":[top],"b":[bot]})).mark_rule(color=col,strokeWidth=w).encode(x=X(),y=Y("a",ys_price),y2=alt.Y2("b")))
layers.append(alt.Chart(pd.DataFrame({"x":[433.8],"a":[552],"b":[-33]})).mark_rule(color="#a6e22e",strokeWidth=4,strokeDash=[18,20]).encode(
    x=X(),y=Y("a",ys_price),y2=alt.Y2("b")))

# zones
zdf = pd.DataFrame(duan_zone,columns=["x","x2","a","b"])
layers.append(alt.Chart(zdf).mark_rect(fill="#90c0f8",fillOpacity=0.2,stroke="#90c0f8",strokeWidth=4,strokeDash=[15,9],cornerRadius=3).encode(
    x=X(),x2=alt.X2("x2"),y=Y("a",ys_price),y2=alt.Y2("b")))
bz = pd.DataFrame(bi_zones,columns=["x","x2","a","b","w"])
layers.append(alt.Chart(bz).mark_rect(fill="white",fillOpacity=0.2,stroke="white",cornerRadius=3).encode(
    x=X(),x2=alt.X2("x2"),y=Y("a",ys_price),y2=alt.Y2("b"),strokeWidth=alt.StrokeWidth("w:Q",scale=None)))

# lines
layers.append(alt.Chart(pd.DataFrame(bi,columns=["x","p"])).mark_line(color="#fdd835",strokeWidth=2.2).encode(x=X(),y=Y("p",ys_price)))
layers.append(alt.Chart(pd.DataFrame(zoushi,columns=["x","p"])).mark_line(color="#84d012",strokeWidth=5,strokeDash=[18,14]).encode(x=X(),y=Y("p",ys_price)))
layers.append(alt.Chart(pd.DataFrame(duan,columns=["x","p"])).mark_line(color="#00bfff",strokeWidth=5).encode(x=X(),y=Y("p",ys_price)))
layers.append(alt.Chart(pd.DataFrame(duan_dashed,columns=["x","p"])).mark_line(color="#00bfff",strokeWidth=5,strokeDash=[18,14]).encode(x=X(),y=Y("p",ys_price)))

# markers
BUY = "M0,0L1,1.5L0,1.1L-1,1.5Z"
SELL = "M0,0L1,-1.5L0,-1.1L-1,-1.5Z"
layers.append(alt.Chart(pd.DataFrame(div_pts,columns=["x","p"])).mark_point(filled=True,color="#a07d3a",opacity=0.55,size=400).encode(x=X(),y=Y("p",ys_price)))
layers.append(alt.Chart(pd.DataFrame(buy_pts,columns=["x","p"])).mark_point(filled=True,shape=BUY,color="#d82555",opacity=0.85,size=676).encode(x=X(),y=Y("p",ys_price)))
layers.append(alt.Chart(pd.DataFrame(sell_pts,columns=["x","p"])).mark_point(filled=True,shape=SELL,color="#1a5aa8",opacity=0.8,size=676).encode(x=X(),y=Y("p",ys_price)))
layers.append(alt.Chart(pd.DataFrame(point_labels,columns=["t","x","p"])).mark_text(font=FONT,fontSize=24,fontWeight="bold",color=GOLD,clip=True).encode(
    x=X(),y=Y("p",ys_price),text="t:N"))

# macd labels, axis labels
layers.append(alt.Chart(pd.DataFrame(mark_texts,columns=["t","x","v"])).mark_text(font=FONT,fontSize=24,fontWeight="bold",color="#dadae6").encode(
    x=X(),y=Y("v",ys_macd),text="t:N"))
layers.append(alt.Chart(pd.DataFrame({"x":tick_pos,"t":tick_labels,"v":[70]*6})).mark_text(font=FONT,fontSize=24,color="#8c8c9e",clip=True).encode(
    x=X(),y=Y("v",ys_macd),text="t:N"))

# header: k-line swatch, legend, title
LEG = "#b9b8ce"
layers.append(rect_ui(415,468,31,63,fill="#ff1650",cornerRadius=8))
layers.append(text_ui("K线",478,46,fontSize=24,color=LEG))
legend_items = [("笔","#fdd835",539,588,600),("线段","#00bfff",645,695,705),("走势段","#7ed321",775,826,834),("趋势段","#9933cc",928,980,989),
                ("笔中枢","white",1084,1134,1143),("线段中枢","#90c0f8",1237,1289,1296),("走势段中枢","#a6e22e",1416,1466,1475)]
for t,col,a,b,tx in legend_items:
    layers.append(alt.Chart(pd.DataFrame({"k":[0]})).mark_rule(color=col,strokeWidth=3.5).encode(x=alt.value(a-16),x2=alt.value(b-16),y=alt.value(31)))
    layers.append(pt_ui((a+b)/2,47,filled=True,color=col,opacity=1,size=484))
    layers.append(text_ui(t,tx,46,fontSize=24,color=LEG))
layers.append(pt_ui(1629,47,filled=True,color="#5c4630",opacity=1,size=800))
layers.append(text_ui("背驰",1664,46,fontSize=24,color=LEG))
WIDE = "M0,-0.43L1,0.43L0,0.22L-1,0.43Z"
layers.append(pt_ui(1765.5,61,filled=True,shape=WIDE,color="#bd2349",opacity=1,size=65*65))
layers.append(text_ui("买点",1801,46,fontSize=24,color=LEG))
layers.append(pt_ui(1902,61,filled=True,shape=WIDE,color="#154a8a",opacity=1,size=65*65))
layers.append(text_ui("卖点",1937,46,fontSize=24,color=LEG))

layers.append(text_ui("SNDK/USDT:SNDK/USDT - 30m",26,54,fontSize=34,fontWeight="bold",color="#eef1fa"))
layers.append(pt_ui(41,108,filled=True,color="#a07f2a",opacity=1,size=700,
    shape="M0,-1L.25,-.32L.95,-.3L.4,.12L.6,.82L0,.42L-.6,.82L-.4,.12L-.95,-.3L-.25,-.32Z"))
layers.append(text_ui("立即试用：https://tradedesk.cn/r/6H8A4VXU",63,109,fontSize=24,color="#6e7086"))

# toolbox icons
icons = [(2080,"M-1,-.8H1V.8H-1ZM-.6,-.45H.6V.45H-.6Z"),
         (2136,"M-.9,-1L-.5,-.5L0,-.2L.5,-.5L.9,-1L.7,-.1L.8,.4L.3,.5L-.5,.2L-.9,.2ZM.3,.5L.6,1"),
         (2191,"M-.45,-.8H.45M-.45,.8H.45M-.45,-.8V-.3M.45,-.8V-.3M-.45,.3V.8M.45,.3V.8M-1,0L-.6,-.3M-1,0L-.6,.3M-1,0H-.4M1,0L.6,-.3M1,0L.6,.3M1,0H.4"),
         (2244,"M-.8,-.45V.45M.8,-.45V.45M-.8,-.45H-.3M-.8,.45H-.3M.3,-.45H.8M.3,.45H.8M0,-1L-.3,-.65M0,-1L.3,-.65M0,-1V-.4M0,1L-.3,.65M0,1L.3,.65M0,1V.4"),
         (2301,"M-.9,-.9H.4V.3H-.9Z M-.4,-.3H.9V1H-.4Z"),
         (2354,"M-1,-.8H1V.8H-1ZM-.6,-.5L.6,.5M.6,-.5L-.6,.5")]
for ix,path in icons:
    layers.append(pt_ui(ix,46,shape=path,filled=False,stroke="#a9a8c0",strokeWidth=2,strokeDash=[5,3],opacity=1,size=32*32))

# watermark
layers.append(pt_ui(2252,1404,shape="diamond",filled=False,stroke="#9a9aa8",strokeWidth=2,opacity=0.8,size=180))
layers.append(pt_ui(2252,1418,shape="diamond",filled=False,stroke="#9a9aa8",strokeWidth=2,opacity=0.8,size=300))
layers.append(text_ui("@ 数字猎手",2271,1412,fontSize=26,color="#9a9aa8",opacity=0.8))

chart = alt.layer(*layers).resolve_scale(y="independent").properties(
    width=2368, height=1400, background="white",
    padding={"left":8,"top":8,"right":8,"bottom":16},
    autosize=alt.AutoSizeParams(type="none"),
).configure_view(fill=BG, stroke=None)

chart.save("out.html", embed_options={"renderer": "svg", "actions": False})
